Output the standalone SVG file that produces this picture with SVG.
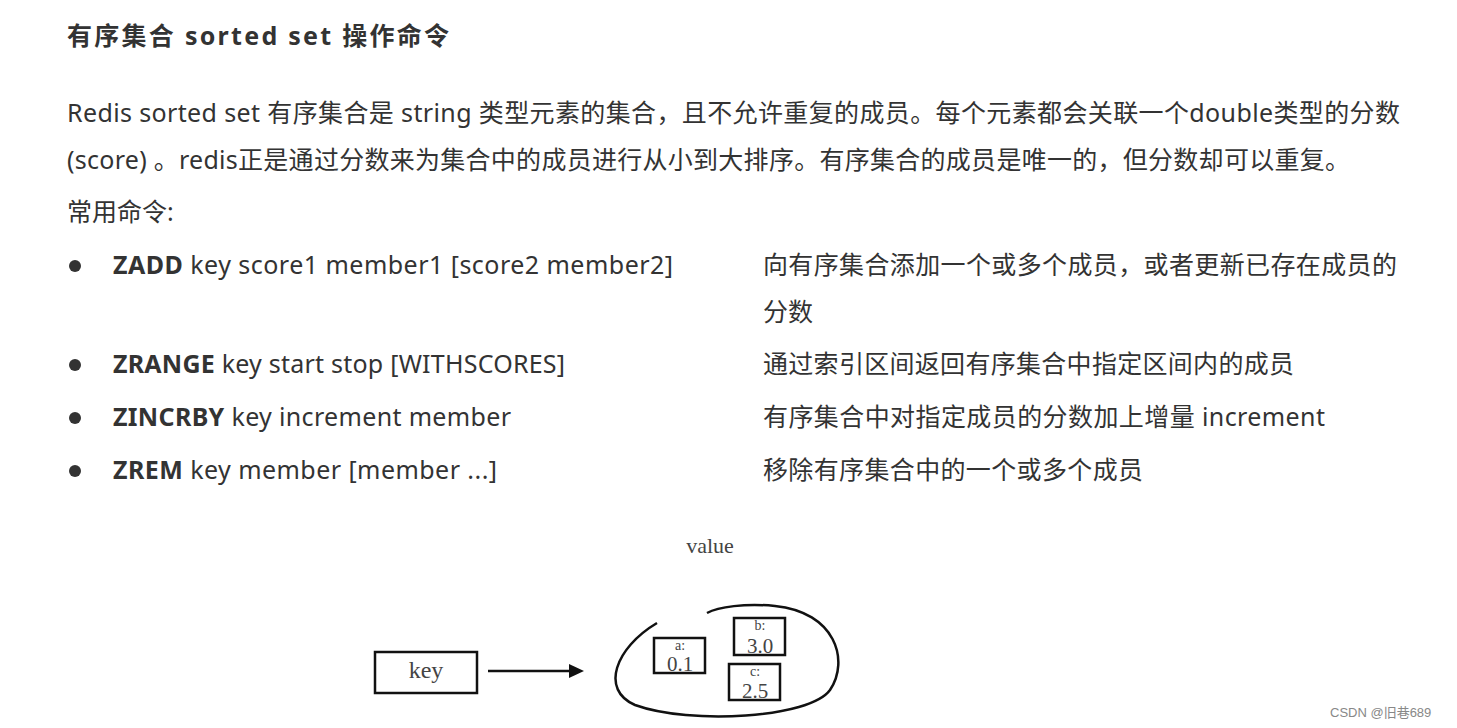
<svg xmlns="http://www.w3.org/2000/svg" width="1457" height="728" viewBox="0 0 1457 728">
<style>
.t{font-family:"Noto Sans","Noto Sans CJK SC",sans-serif;fill:#333;font-size:25px}
.b{font-weight:bold}
.h{font-family:"Liberation Serif","Noto Sans CJK SC",serif;fill:#444}
.ln{fill:none;stroke:#111;stroke-width:2.5}
</style>
<rect width="1457" height="728" fill="#fff"/>
<text class="t b" x="67" y="45" font-size="26" textLength="382">有序集合 sorted set 操作命令</text>
<text class="t" x="67" y="122" textLength="1333">Redis sorted set 有序集合是 string 类型元素的集合，且不允许重复的成员。每个元素都会关联一个double类型的分数</text>
<text class="t" x="67" y="169" textLength="1283">(score) 。redis正是通过分数来为集合中的成员进行从小到大排序。有序集合的成员是唯一的，但分数却可以重复。</text>
<text class="t" x="67" y="221">常用命令:</text>
<g fill="#333"><circle cx="75" cy="266" r="6"/><circle cx="75" cy="365" r="6"/><circle cx="75" cy="418" r="6"/><circle cx="75" cy="471" r="6"/></g>
<text class="t" x="113" y="274" textLength="560"><tspan class="b">ZADD</tspan> key score1 member1 [score2 member2]</text>
<text class="t" x="763" y="274" textLength="634">向有序集合添加一个或多个成员，或者更新已存在成员的</text>
<text class="t" x="763" y="321">分数</text>
<text class="t" x="113" y="373" textLength="452"><tspan class="b">ZRANGE</tspan> key start stop [WITHSCORES]</text>
<text class="t" x="763" y="373" textLength="531">通过索引区间返回有序集合中指定区间内的成员</text>
<text class="t" x="113" y="426" textLength="398"><tspan class="b">ZINCRBY</tspan> key increment member</text>
<text class="t" x="763" y="426" textLength="562">有序集合中对指定成员的分数加上增量 increment</text>
<text class="t" x="113" y="479" textLength="384"><tspan class="b">ZREM</tspan> key member [member ...]</text>
<text class="t" x="763" y="479" textLength="380">移除有序集合中的一个或多个成员</text>
<text class="h" x="710" y="553" font-size="22" text-anchor="middle">value</text>
<g id="key"><rect class="ln" x="375" y="652" width="102" height="41"/><text class="h" x="426" y="678" font-size="24" text-anchor="middle">key</text></g>
<g id="connectors"><line class="ln" x1="488" y1="671" x2="570" y2="671"/><polygon points="584,671 569,664 569,678" fill="#111"/></g>
<g id="set"><path class="ln" d="M657,623 C615,648 600,690 635,705 C690,725 810,718 830,690 C850,660 835,612 775,606 C745,603 718,607 707,613"/></g>
<g id="a"><rect class="ln" x="654" y="638" width="51" height="35" stroke-width="2"/><text class="h" x="680" y="650" font-size="14" text-anchor="middle">a:</text><text class="h" x="680" y="671" font-size="21" text-anchor="middle">0.1</text></g>
<g id="b"><rect class="ln" x="734" y="618" width="51" height="37" stroke-width="2"/><text class="h" x="760" y="630" font-size="14" text-anchor="middle">b:</text><text class="h" x="760" y="653" font-size="21" text-anchor="middle">3.0</text></g>
<g id="c"><rect class="ln" x="729" y="664" width="51" height="36" stroke-width="2"/><text class="h" x="755" y="676" font-size="14" text-anchor="middle">c:</text><text class="h" x="755" y="698" font-size="21" text-anchor="middle">2.5</text></g>
<text x="1330" y="717" font-family="Liberation Sans,Noto Sans CJK SC,sans-serif" font-size="13" fill="#888">CSDN @旧巷689</text>
</svg>
